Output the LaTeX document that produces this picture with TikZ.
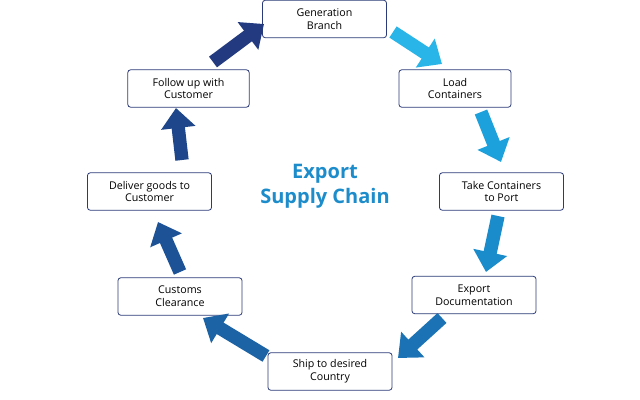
\documentclass[tikz,border=0pt]{standalone}
\usepackage{fontspec}
\setmainfont{Open Sans}
\usetikzlibrary{arrows.meta}

\definecolor{boxline}{HTML}{2B3A78}
\definecolor{titleblue}{HTML}{1C8CCB}
\definecolor{ca}{HTML}{29B5E8}
\definecolor{cb}{HTML}{1DA1DC}
\definecolor{cc}{HTML}{1A8CCB}
\definecolor{cd}{HTML}{1B73B5}
\definecolor{ce}{HTML}{1C63A6}
\definecolor{cf}{HTML}{1D5297}
\definecolor{cg}{HTML}{1E468A}
\definecolor{ch}{HTML}{233A80}

\tikzset{
  stage/.style={draw=boxline,rounded corners=2pt,fill=white,minimum width=93pt,
    minimum height=28pt,align=center,font=\fontsize{8}{9.5}\selectfont,line width=0.6pt},
  flow/.style={line width=10pt,-{Triangle[length=15pt,width=25pt]}}
}

\begin{document}
\begin{tikzpicture}[x=0.75pt,y=-0.75pt]
			\useasboundingbox (0,0) rectangle (640,400);

			%steps
			\node [stage] (gen) at (324.5,19) {Generation\\Branch};
			\node [stage,minimum width=84pt] (load) at (455,88.5) {Load\\Containers};
			\node [stage] (take) at (501.5,191.5) {Take Containers\\to Port};
			\node [stage] (doc) at (474,295) {Export\\Documentation};
			\node [stage] (ship) at (330,371.5) {Ship to desired\\Country};
			\node [stage] (cust) at (180,296.5) {Customs\\Clearance};
			\node [stage] (deliv) at (149.5,191.5) {Deliver goods to\\Customer};
			\node [stage,minimum width=91pt] (follow) at (188.5,88.5) {Follow up with\\Customer};

			%title
			\node [text=titleblue,font=\bfseries\fontsize{15}{19}\selectfont,align=center] (title) at (325,186) {Export\\Supply Chain};

			%arrow ends
			\coordinate (a1) at (393,32);  \coordinate (b1) at (442,64);
			\coordinate (a2) at (481,112); \coordinate (b2) at (501,162);
			\coordinate (a3) at (498,216); \coordinate (b3) at (486,272);
			\coordinate (a4) at (442,318); \coordinate (b4) at (398,358);
			\coordinate (a5) at (266,356); \coordinate (b5) at (203,318);
			\coordinate (a6) at (180,272); \coordinate (b6) at (158,222);
			\coordinate (a7) at (182,160); \coordinate (b7) at (176,108);
			\coordinate (a8) at (213,62);  \coordinate (b8) at (264,24);

			%arrows
			\draw [flow,ca] (a1) -- (b1);
			\draw [flow,cb] (a2) -- (b2);
			\draw [flow,cc] (a3) -- (b3);
			\draw [flow,cd] (a4) -- (b4);
			\draw [flow,ce] (a5) -- (b5);
			\draw [flow,cf] (a6) -- (b6);
			\draw [flow,cg] (a7) -- (b7);
			\draw [flow,ch] (a8) -- (b8);
\end{tikzpicture}
\end{document}
